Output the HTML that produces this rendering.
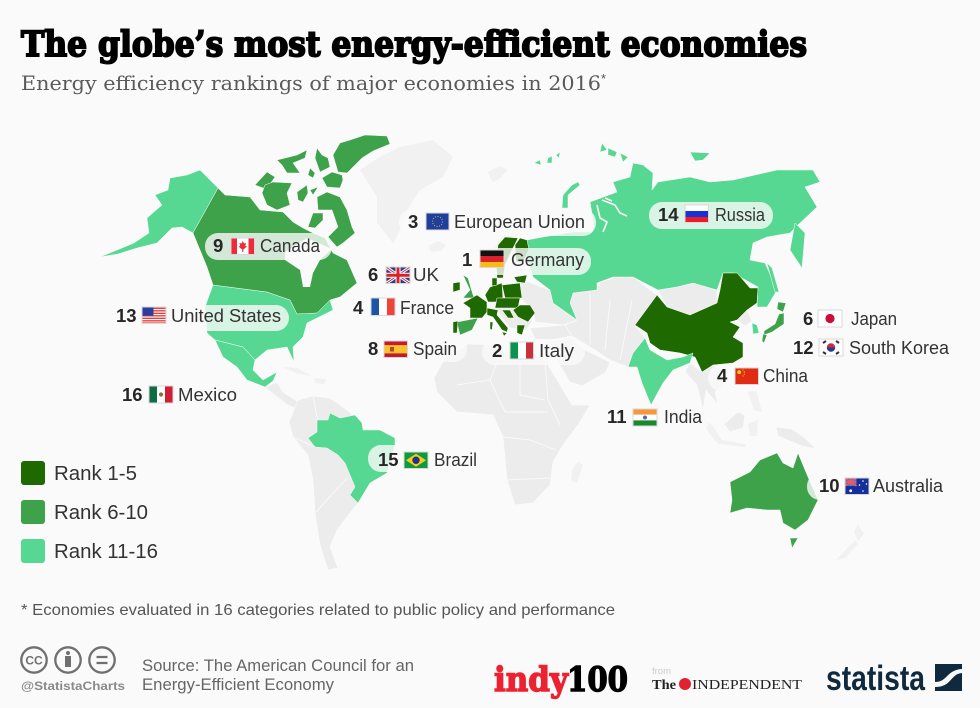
<!DOCTYPE html>
<html lang="en">
<head>
<meta charset="utf-8">
<title>The globe's most energy-efficient economies</title>
<style>
html,body{margin:0;padding:0;background:#fafafa;width:980px;height:708px;overflow:hidden}
svg{display:block}
text{font-family:"Liberation Sans",sans-serif}
.land{fill:#ececec;stroke:#fafafa;stroke-width:.7}
.far{fill:#f1f1f1;stroke:none}
.bd{fill:none;stroke:#fafafa;stroke-width:.9}
.c{stroke:#fafafa;stroke-width:.5;stroke-linejoin:round}
.pill{fill:#fafafa;fill-opacity:.8}
.num{font-size:18.5px;font-weight:700;fill:#262626}
.lab{font-size:18.5px;fill:#333}
.frame{fill:none;stroke:#d8d8d8;stroke-width:1}
</style>
</head>
<body>
<svg id="chart" xmlns="http://www.w3.org/2000/svg" width="980" height="708" viewBox="0 0 980 708">
<rect width="980" height="708" fill="#fafafa"/>

<text x="21" y="56" font-size="35" textLength="786" lengthAdjust="spacingAndGlyphs" style="font-family:'DejaVu Serif','Liberation Serif',serif;font-weight:700;stroke:#000;stroke-width:1.9px" fill="#000">The globe’s most energy-efficient economies</text>
<text x="21" y="90" font-size="20" fill="#5a5a5a" textLength="580" lengthAdjust="spacingAndGlyphs" style="font-family:'DejaVu Serif','Liberation Serif',serif">Energy efficiency rankings of major economies in 2016</text>
<text x="601" y="83" font-size="13" fill="#555">*</text>

<g>
  <g>
    <polygon class="far" points="360,170 378,158 400,147 433,140 453,157 443,177 420,190 410,205 400,230 393,243 377,223 377,197"/>
    <polygon class="far" points="428,246 438,241 446,245 441,251 431,252"/>
    <polygon class="far" points="488,172 500,166 508,170 498,180 492,182"/>
    <polygon class="far" points="496,277 486,268 490,255 500,240 515,232 530,234 502,238 496,258"/>
    <polygon class="land" points="265,387 277,382 283,392 298,402 314,407 306,413 288,405 276,396"/>
    <polygon class="far" points="283,367 297,368 312,376 298,374"/>
    <polygon class="far" points="314,378 326,379 324,384 315,383"/>
    <polygon class="land" points="298,400 313,396 330,398 347,410 362,423 363,430 380,430 395,438 395,445 387,473 370,483 358,503 350,513 337,530 330,547 338,568 328,570 320,545 315,513 313,480 308,455 293,437 289,422"/>
    <polygon class="land" points="445,358 468,344 492,345 505,352 520,350 545,360 560,385 572,405 590,405 578,425 563,445 553,462 550,485 533,503 515,505 507,480 503,437 493,415 457,412 437,392 434,378"/>
    <polygon class="far" points="578,462 583,465 577,483 571,481 572,470"/>
    <polygon class="land" points="523,280 550,290 553,303 577,320 563,325 535,322 533,310 522,300 520,283"/>
    <polygon class="land" points="495,308 520,305 532,322 526,330 510,328"/>
    <polygon class="land" points="530,328 565,325 572,336 550,340 535,339"/>
    <polygon class="land" points="565,325 577,320 570,303 573,293 597,290 600,282 617,277 633,277 657,295 635,325 645,338 633,353 628,367 610,360 595,350 572,336"/>
    <polygon class="land" points="549,342 570,338 585,350 610,362 606,372 582,386 570,382 558,362"/>
    <polygon class="land" points="658,290 677,287 693,283 717,290 717,303 690,315 667,307"/>
    <polygon class="land" points="737,320 747,310 752,321 745,326"/>
    <polygon class="land" points="690,363 702,372 713,365 725,372 723,385 715,392 718,405 706,390 703,410 697,385 685,372"/>
    <polygon class="far" points="656,404 661,406 660,413 656,411"/>
    <polygon class="far" points="703,418 712,425 722,440 745,444 745,447 718,444 708,432"/>
    <polygon class="land" points="724,424 738,412 745,415 743,428 730,432"/>
    <polygon class="far" points="748,424 758,420 757,436 750,436"/>
    <polygon class="far" points="748,392 756,390 762,412 754,410"/>
    <polygon class="land" points="776,427 792,429 806,439 816,449 802,446 790,441 778,436"/>
    <polygon class="far" points="858,524 864,534 858,541 854,532"/>
    <polygon class="far" points="855,540 858,544 845,558 836,560"/>
    <path class="bd" d="M457,385 L490,380 L500,355 M490,380 L505,412 M520,351 L520,395 L545,400 M545,360 L548,400 L560,425 M505,412 L548,412 M503,437 L530,440 L556,450 M507,480 L550,478 M313,396 L318,422 M293,437 L315,447 M315,513 L347,478 M590,292 L590,345 M610,300 L605,350 M632,300 L620,360"/>
  </g>

  <g>
    <g class="c" data-economy="United States">
      <path d="M170,178 L187,175 L200,170 L218,188 L193,233 L182,227 L172,228 L157,243 L137,248 L118,254 L100,257 L134,243 L149,233 L147,218 L162,205 L155,195 L168,190Z"/>
      <polygon points="213,285 267,292 290,300 297,314 317,308 330,300 333,310 307,323 303,337 293,347 294,362 287,347 267,350 255,360 243,347 215,340 207,333 205,307"/>
    </g>
    <g class="c" data-economy="Canada">
      <polygon points="218,188 225,195 250,197 260,210 283,212 293,222 303,228 313,233 325,238 333,253 347,260 357,283 340,297 330,300 317,313 297,314 290,300 267,292 213,285 207,267 193,233"/>
      <polygon points="350,140 365,135 387,136 390,144 373,151 362,158 353,167 347,173 338,172 333,155 340,143"/>
      <polygon points="317,148 322,155 328,158 330,167 320,172 315,158"/>
      <polygon points="322,178 332,172 342,175 343,180 340,188 327,187"/>
      <polygon points="277,160 297,155 307,150 305,158 293,163 300,173 287,173 282,165"/>
      <polygon points="310,168 315,173 313,178 308,175"/>
      <polygon points="255,185 267,172 275,177 268,187 263,188"/>
      <polygon points="265,185 273,182 292,183 287,193 290,205 277,210 267,205 262,193"/>
      <polygon points="297,192 307,185 308,193 303,202 298,200"/>
      <polygon points="310,190 318,187 313,195"/>
      <polygon points="317,197 327,192 340,197 347,210 352,227 355,233 343,243 337,247 328,237 338,227 332,210 318,210"/>
      <polygon points="313,213 323,213 323,220 315,228 308,227"/>
    </g>
    <polygon fill="#fafafa" points="285,252 307,238 332,249 320,260 313,273 310,287 303,287 300,270 285,260"/>
    <g class="c" data-economy="Mexico">
      <polygon points="215,340 243,347 255,360 253,370 263,380 277,372 273,381 265,387 247,380 237,367 223,357"/>
    </g>
    <g class="c" data-economy="Brazil">
      <polygon points="308,438 317,432 317,420 328,420 330,413 340,418 355,415 362,423 363,430 380,430 395,438 395,445 387,473 370,483 358,503 350,495 355,487 345,463 338,455 327,448 315,447"/>
    </g>
    <g class="c" data-economy="Russia">
      <polygon points="527,240 543,237 573,232 592,232 594,225 590,202 617,192 613,182 630,177 633,163 643,165 653,173 652,190 658,182 690,177 710,182 733,180 777,170 813,170 820,182 805,187 817,207 800,223 790,233 767,237 753,243 750,260 765,263 777,290 767,307 757,307 758,287 733,273 723,273 717,290 693,283 677,287 658,290 633,277 613,277 597,283 597,290 573,293 570,303 577,320 553,303 550,290 533,277 523,247"/>
      <polygon points="795,223 805,233 802,268 790,250"/>
      <polygon points="578,182 580,185 568,195 568,208 562,208 563,195 572,185"/>
      <polygon points="602,143 607,150 600,152"/>
      <polygon points="608,148 617,152 615,157 608,155"/>
      <polygon points="620,153 628,157 623,162"/>
      <polygon points="690,152 710,153 703,160 695,161"/>
      <polygon points="534,163 540,160 541,165"/>
      <polygon points="548,158 552,156 552,163 547,163"/>
      <polygon points="556,155 560,152 559,158"/>
      <polygon points="767,263 772,268 779,292 775,292"/>
    </g>
    <path fill="none" stroke="#fafafa" stroke-width="1.6" d="M597,205 L600,218 L607,222 L603,232 M602,200 L615,205 L620,213 L627,216 M605,198 L612,201"/>
    <g class="c" data-economy="China">
      <polygon points="635,325 657,295 667,307 690,315 717,303 720,290 723,273 737,273 750,288 758,288 757,303 747,310 737,320 730,322 740,327 733,337 743,343 743,357 733,363 713,365 702,372 695,357 680,353 660,350 650,343 647,333"/>
    </g>
    <g class="c" data-economy="India">
      <polygon points="645,338 650,350 667,360 683,357 693,353 690,363 673,370 663,383 651,405 642,383 637,367 628,367 633,353"/>
    </g>
    <g class="c" data-economy="South Korea">
      <polygon points="752,323 757,325 759,333 753,334"/>
    </g>
    <g class="c" data-economy="Japan">
      <polygon points="778,302 786,303 783,312 777,309"/>
      <polygon points="779,314 784,313 784,324 772,332 764,335 764,331 775,324"/>
      <polygon points="763,334 767,335 764,343 762,341"/>
    </g>
    <g class="c" data-economy="Australia">
      <polygon points="730,482 750,472 760,460 777,453 783,463 793,468 798,453 808,477 818,500 808,520 795,530 783,523 780,510 767,510 747,508 730,513 732,500"/>
      <polygon points="790,538 798,538 792,548"/>
    </g>
    <g class="c" data-economy="UK">
      <polygon points="463,275 468,278 473,295 475,298 463,298 470,290"/>
    </g>
    <g class="c" data-economy="Spain">
      <polygon points="457,322 478,318 472,330 460,335 458,327"/>
    </g>
    <g class="c" data-economy="France">
      <polygon points="463,303 477,295 487,302 487,312 482,318 470,318 470,308"/>
    </g>
    <g class="c" data-economy="Germany">
      <polygon points="485,295 490,287 502,283 503,300 495,302 488,302"/>
    </g>
    <g class="c" data-economy="Italy">
      <polygon points="487,308 498,310 497,315 508,328 507,332 502,330 493,317 487,315"/>
      <polygon points="490,322 493,322 492,330 490,329"/>
      <polygon points="502,332 507,333 504,336"/>
    </g>
    <g class="c" data-economy="European Union">
      <polygon points="498,245 505,237 518,238 512,250 505,265 503,278 497,278 496,262"/>
      <polygon points="515,245 520,238 527,240 529,250 523,262 516,262"/>
      <polygon points="514,277 527,275 525,283 517,282"/>
      <polygon points="453,283 460,282 460,290 453,292"/>
      <polygon points="453,322 458,321 457,333 453,333"/>
      <polygon points="502,285 520,283 522,298 505,298"/>
      <polygon points="497,298 520,298 518,308 495,308"/>
      <polygon points="520,305 530,305 535,313 528,322 518,317 513,310"/>
      <polygon points="517,325 525,325 522,335 517,333"/>
      <polygon points="502,310 510,310 514,318 508,318"/>
      <polygon points="492,278 497,278 497,285 492,286"/>
    </g>
  </g>
</g>

<g>
  <rect class="pill" x="205" y="233" width="127" height="27" rx="13"/>
  <rect class="pill" x="106" y="305" width="183" height="26" rx="13"/>
  <rect class="pill" x="399" y="209" width="197" height="27" rx="13"/>
  <rect class="pill" x="455" y="248" width="136" height="27" rx="13"/>
  <rect class="pill" x="649" y="202" width="124" height="27" rx="13"/>
  <rect class="pill" x="360" y="262" width="88" height="26" rx="13"/>
  <rect class="pill" x="345" y="295" width="117" height="26" rx="13"/>
  <rect class="pill" x="360" y="336" width="107" height="26" rx="13"/>
  <rect class="pill" x="482" y="339" width="103" height="26" rx="13"/>
  <rect class="pill" x="708" y="365" width="108" height="26" rx="13"/>
  <rect class="pill" x="598" y="405" width="112" height="26" rx="13"/>
  <rect class="pill" x="368" y="445" width="118" height="27" rx="13"/>
  <rect class="pill" x="807" y="473" width="145" height="27" rx="13"/>
</g>

<g>
  <g transform="translate(426,213)"><rect width="23" height="17" fill="#1f3f9e"/><circle cx="11.5" cy="8.5" r="5" fill="none" stroke="#d8b92a" stroke-width="1" stroke-dasharray="1 1.6"/><rect class="frame" width="23" height="17"/></g>
  <g transform="translate(480,250)"><rect width="24" height="6" fill="#111"/><rect y="6" width="24" height="6" fill="#d8232a"/><rect y="12" width="24" height="5.5" fill="#fdb913"/><rect class="frame" width="24" height="17.5"/></g>
  <g transform="translate(685,205)"><rect width="23.5" height="6" fill="#fff"/><rect y="6" width="23.5" height="6" fill="#1733d8"/><rect y="12" width="23.5" height="5.5" fill="#ee1c25"/><rect class="frame" width="23.5" height="17.5"/></g>
  <g transform="translate(386,267)"><rect width="24" height="16.5" fill="#26408f"/><path d="M0,0 L24,16.5 M24,0 L0,16.5" stroke="#fff" stroke-width="3"/><path d="M0,0 L24,16.5 M24,0 L0,16.5" stroke="#d8232a" stroke-width="1"/><path d="M12,0 V16.5 M0,8.25 H24" stroke="#fff" stroke-width="5"/><path d="M12,0 V16.5 M0,8.25 H24" stroke="#d8232a" stroke-width="3"/><rect class="frame" width="24" height="16.5"/></g>
  <g transform="translate(371,298)"><rect width="8" height="17.5" fill="#1c55a8"/><rect x="8" width="8" height="17.5" fill="#fff"/><rect x="16" width="8" height="17.5" fill="#f0433a"/><rect class="frame" width="24" height="17.5"/></g>
  <g transform="translate(231,238)"><rect width="23.5" height="16.5" fill="#fff"/><rect width="6" height="16.5" fill="#ef2b39"/><rect x="17.5" width="6" height="16.5" fill="#ef2b39"/><polygon points="11.75,3 13,5.5 15,5 14.3,8 16,8.5 12.3,11.5 12.3,14 11.2,14 11.2,11.5 7.5,8.5 9.2,8 8.5,5 10.5,5.5" fill="#ef2b39"/><rect class="frame" width="23.5" height="16.5"/></g>
  <g transform="translate(142,307)"><rect width="24" height="16.5" fill="#fff"/><path d="M0,1.3 H24 M0,3.8 H24 M0,6.3 H24 M0,8.8 H24 M0,11.3 H24 M0,13.8 H24 M0,16 H24" stroke="#e0403f" stroke-width="1.3"/><rect width="11.5" height="8.8" fill="#2c3d9e"/><rect class="frame" width="24" height="16.5"/></g>
  <g transform="translate(384,341)"><rect width="23.5" height="16.5" fill="#c8182c"/><rect y="4.1" width="23.5" height="8.3" fill="#fbc02d"/><rect x="6" y="6" width="4" height="4.5" fill="#b5462a"/><rect class="frame" width="23.5" height="16.5"/></g>
  <g transform="translate(149,386)"><rect width="8" height="17" fill="#0f6b46"/><rect x="8" width="8" height="17" fill="#fff"/><rect x="16" width="8" height="17" fill="#cf1f36"/><circle cx="12" cy="8.5" r="2.1" fill="#8a6f3a"/><rect class="frame" width="24" height="17"/></g>
  <g transform="translate(510,342)"><rect width="8" height="17" fill="#0c9150"/><rect x="8" width="8" height="17" fill="#fff"/><rect x="16" width="7.5" height="17" fill="#c8303c"/><rect class="frame" width="23.5" height="17"/></g>
  <g transform="translate(818,310)"><rect width="24" height="17" fill="#fff"/><circle cx="12" cy="8.5" r="4.6" fill="#cf0a3c"/><rect class="frame" width="24" height="17"/></g>
  <g transform="translate(819,339)"><rect width="24" height="17" fill="#fff"/><circle cx="12" cy="8.5" r="4.2" fill="#d02a3c"/><path d="M7.8,8.5 A4.2,4.2 0 0 0 16.2,8.5 Z" fill="#1f3f94"/><path d="M4,4 L7,2 M17,2 L20,4 M4,13 L7,15 M17,15 L20,13" stroke="#333" stroke-width="2"/><rect class="frame" width="24" height="17"/></g>
  <g transform="translate(735,368)"><rect width="23.5" height="16.5" fill="#e02c12"/><circle cx="4.2" cy="4.2" r="1.9" fill="#f7d31f"/><circle cx="8" cy="2" r=".6" fill="#f7d31f"/><circle cx="9.3" cy="4" r=".6" fill="#f7d31f"/><circle cx="9.3" cy="6.2" r=".6" fill="#f7d31f"/><circle cx="8" cy="8" r=".6" fill="#f7d31f"/><rect class="frame" width="23.5" height="16.5"/></g>
  <g transform="translate(633,409)"><rect width="24" height="5.7" fill="#f5983a"/><rect y="5.7" width="24" height="5.7" fill="#fff"/><rect y="11.4" width="24" height="5.6" fill="#188a2c"/><circle cx="12" cy="8.5" r="2" fill="#5a66b0"/><rect class="frame" width="24" height="17"/></g>
  <g transform="translate(404,452)"><rect width="24" height="16.5" fill="#0f9a3f"/><polygon points="12,1.8 22,8.25 12,14.7 2,8.25" fill="#f5cf1a"/><circle cx="12" cy="8.25" r="3.7" fill="#2a2f8a"/><rect class="frame" width="24" height="16.5"/></g>
  <g transform="translate(845,478)"><rect width="24" height="16.5" fill="#142f9a"/><rect width="11.5" height="8" fill="#6a6fb0"/><path d="M0,0 L11.5,8 M11.5,0 L0,8 M5.75,0 V8 M0,4 H11.5" stroke="#ea5a68" stroke-width="1.4"/><circle cx="5.7" cy="12.8" r="1.4" fill="#fff"/><circle cx="18" cy="3" r=".8" fill="#fff"/><circle cx="18" cy="13" r=".8" fill="#fff"/><circle cx="14.5" cy="7" r=".8" fill="#fff"/><circle cx="21.5" cy="6" r=".8" fill="#fff"/><rect class="frame" width="24" height="16.5"/></g>
</g>

<g>
  <text class="num rank-num" data-economy="European Union" x="408" y="228">3</text>
  <text class="lab" x="454" y="228" textLength="131" lengthAdjust="spacingAndGlyphs">European Union</text>
  <text class="num rank-num" data-economy="Germany" x="462" y="266">1</text>
  <text class="lab" x="511" y="266" textLength="73" lengthAdjust="spacingAndGlyphs">Germany</text>
  <text class="num rank-num" data-economy="Russia" x="658" y="221">14</text>
  <text class="lab" x="715" y="221" textLength="50" lengthAdjust="spacingAndGlyphs">Russia</text>
  <text class="num rank-num" data-economy="Canada" x="213" y="252">9</text>
  <text class="lab" x="260" y="252" textLength="60" lengthAdjust="spacingAndGlyphs">Canada</text>
  <text class="num rank-num" data-economy="UK" x="368" y="281">6</text>
  <text class="lab" x="413" y="281" textLength="26" lengthAdjust="spacingAndGlyphs">UK</text>
  <text class="num rank-num" data-economy="France" x="353" y="314">4</text>
  <text class="lab" x="400" y="314" textLength="54" lengthAdjust="spacingAndGlyphs">France</text>
  <text class="num rank-num" data-economy="United States" x="116" y="322">13</text>
  <text class="lab" x="171" y="322" textLength="110" lengthAdjust="spacingAndGlyphs">United States</text>
  <text class="num rank-num" data-economy="Spain" x="368" y="355">8</text>
  <text class="lab" x="413" y="355" textLength="44" lengthAdjust="spacingAndGlyphs">Spain</text>
  <text class="num rank-num" data-economy="Italy" x="492" y="357">2</text>
  <text class="lab" x="539" y="357" textLength="35" lengthAdjust="spacingAndGlyphs">Italy</text>
  <text class="num rank-num" data-economy="Mexico" x="122" y="401">16</text>
  <text class="lab" x="178" y="401" textLength="59" lengthAdjust="spacingAndGlyphs">Mexico</text>
  <text class="num rank-num" data-economy="Japan" x="803" y="325">6</text>
  <text class="lab" x="851" y="325" textLength="46" lengthAdjust="spacingAndGlyphs">Japan</text>
  <text class="num rank-num" data-economy="South Korea" x="793" y="354">12</text>
  <text class="lab" x="849" y="354" textLength="100" lengthAdjust="spacingAndGlyphs">South Korea</text>
  <text class="num rank-num" data-economy="China" x="717" y="382">4</text>
  <text class="lab" x="763" y="382" textLength="45" lengthAdjust="spacingAndGlyphs">China</text>
  <text class="num rank-num" data-economy="India" x="607" y="423">11</text>
  <text class="lab" x="664" y="423" textLength="38" lengthAdjust="spacingAndGlyphs">India</text>
  <text class="num rank-num" data-economy="Brazil" x="378" y="466">15</text>
  <text class="lab" x="434" y="466" textLength="43" lengthAdjust="spacingAndGlyphs">Brazil</text>
  <text class="num rank-num" data-economy="Australia" x="819" y="492">10</text>
  <text class="lab" x="873" y="492" textLength="70" lengthAdjust="spacingAndGlyphs">Australia</text>
</g>

<g>
  <g><rect x="21" y="461" width="24" height="24" rx="3" fill="#1f6a00"/><text x="54" y="480" font-size="20" fill="#333" textLength="83" lengthAdjust="spacingAndGlyphs">Rank 1-5</text></g>
  <g><rect x="21" y="500" width="24" height="24" rx="3" fill="#3da24a"/><text x="54" y="519" font-size="20" fill="#333" textLength="94" lengthAdjust="spacingAndGlyphs">Rank 6-10</text></g>
  <g><rect x="21" y="539" width="24" height="24" rx="3" fill="#57d892"/><text x="54" y="558" font-size="20" fill="#333" textLength="104" lengthAdjust="spacingAndGlyphs">Rank 11-16</text></g>
</g>

<text x="21" y="615" font-size="16" fill="#555" textLength="594" lengthAdjust="spacingAndGlyphs">* Economies evaluated in 16 categories related to public policy and performance</text>

<g fill="none" stroke="#707070" stroke-width="2.3">
  <g><circle cx="34" cy="660" r="12.7"/><text x="34" y="664.5" font-size="12" font-weight="700" text-anchor="middle" fill="#707070" stroke="none">CC</text></g>
  <g><circle cx="68" cy="660" r="12.7"/><circle cx="68" cy="653" r="2" fill="#707070" stroke="none"/><rect x="65" y="656" width="6" height="11" fill="#707070" stroke="none"/></g>
  <g><circle cx="102" cy="660" r="12.7"/><path d="M96.5,657 H107.5 M96.5,663 H107.5"/></g>
</g>
<text x="21" y="690" font-size="12" font-weight="700" fill="#8a8a8a" textLength="104" lengthAdjust="spacingAndGlyphs">@StatistaCharts</text>
<text x="142" y="671" font-size="16.5" fill="#666" textLength="272" lengthAdjust="spacingAndGlyphs">Source: The American Council for an</text>
<text x="142" y="690" font-size="16.5" fill="#666" textLength="192" lengthAdjust="spacingAndGlyphs">Energy-Efficient Economy</text>

<g>
  <text x="494" y="691" font-size="34" textLength="74" lengthAdjust="spacingAndGlyphs" fill="#ec2231" style="font-family:'DejaVu Serif',serif;font-weight:700;stroke:#ec2231;stroke-width:1.4px">indy</text>
  <text x="567" y="691" font-size="34" textLength="61" lengthAdjust="spacingAndGlyphs" fill="#000" style="font-family:'DejaVu Serif',serif;font-weight:700;stroke:#000;stroke-width:1.4px">100</text>
</g>
<g>
  <text x="652" y="674" font-size="9.5" fill="#cccccc">from</text>
  <text x="652" y="689" font-size="14" fill="#222" textLength="24" lengthAdjust="spacingAndGlyphs" style="font-family:'Liberation Serif',serif;font-weight:700">The</text>
  <circle cx="685" cy="684" r="6" fill="#e0242f"/>
  <text x="692" y="689" font-size="14" fill="#222" textLength="110" lengthAdjust="spacingAndGlyphs" style="font-family:'Liberation Serif',serif">INDEPENDENT</text>
</g>
<g>
  <text x="826" y="690" font-size="35" font-weight="700" fill="#0f2a3f" textLength="99" lengthAdjust="spacingAndGlyphs">statista</text>
  <rect x="935" y="664" width="27" height="27" fill="#0f2a3f"/>
  <path d="M935,682 C948,682 946,670 962,669 L962,673 C950,674 952,687 935,687Z" fill="#fafafa"/>
</g>
</svg>

<script>
const economies = ["Germany","Italy","European Union","France","China","UK","Japan","Spain","Canada","Australia","India","South Korea","United States","Russia","Brazil","Mexico"];
const ranks = [1,2,3,4,4,6,6,8,9,10,11,12,13,14,15,16];
const bandUpperLimits = [5,10,16];
const bandColors = ["#1f6a00","#3da24a","#57d892"];

function colorForRank(rank){
  for(let i=0;i<bandUpperLimits.length;i++){
    if(rank<=bandUpperLimits[i]) return bandColors[i];
  }
  return bandColors[bandColors.length-1];
}
economies.forEach(function(name,i){
  document.querySelectorAll('.c[data-economy="'+name+'"]').forEach(function(shape){
    shape.setAttribute('fill',colorForRank(ranks[i]));
  });
  document.querySelectorAll('.rank-num[data-economy="'+name+'"]').forEach(function(label){
    label.textContent=String(ranks[i]);
  });
});
</script>
</body>
</html>
